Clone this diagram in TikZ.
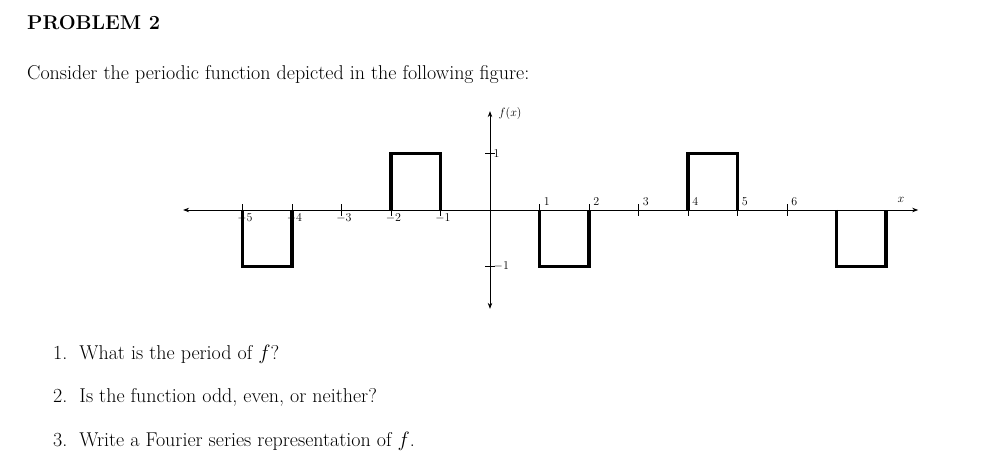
\documentclass[tikz,border=0pt]{standalone}
\usetikzlibrary{arrows.meta}
\begin{document}
\begin{tikzpicture}[
  txt/.style={anchor=base west,inner sep=0pt,font=\fontsize{20}{24}\selectfont},
  lbl/.style={inner sep=1pt,font=\fontsize{13}{15}\selectfont},
  pulse/.style={line width=3.5pt},
  ax/.style={line width=0.8pt,{Stealth[length=6pt]}-{Stealth[length=6pt]}}]
\useasboundingbox (0,0) rectangle (994pt,466pt);
\node[txt,font=\fontsize{20}{24}\selectfont\bfseries] (t0) at (27pt,436pt) {PROBLEM 2};
\node[txt] (t1) at (27pt,386pt) {Consider the periodic function depicted in the following figure:};
\node[txt] (q1) at (53pt,106pt) {1.\ \ What is the period of $f$?};
\node[txt] (q2) at (53pt,63pt) {2.\ \ Is the function odd, even, or neither?};
\node[txt] (q3) at (53pt,19pt) {3.\ \ Write a Fourier series representation of $f$.};
\begin{scope}[shift={(490pt,256pt)},x=49.5pt,y=56.5pt]
  \coordinate (xl) at (-6.2,0); \coordinate (xr) at (8.65,0);
  \coordinate (yb) at (0,-1.75); \coordinate (yt) at (0,1.75);
  \draw[ax] (xl) -- (xr);
  \draw[ax] (yb) -- (yt);
  \node[lbl,anchor=west] (fx) at (0.15,1.7) {$f(x)$};
  \node[lbl] (xlab) at (8.3,0.17) {$x$};
  \foreach \v in {-5,...,-1} {\draw[line width=0.6pt] (\v,-0.1) -- (\v,0.1);
    \node[lbl] at (\v+0.05,-0.15) {$\v$};}
  \foreach \v in {1,...,6} {\draw[line width=0.6pt] (\v,-0.1) -- (\v,0.1);
    \node[lbl] at (\v+0.15,0.15) {$\v$};}
  \draw[line width=0.6pt] (-0.1,1) -- (0.1,1);
  \draw[line width=0.6pt] (-0.1,-1) -- (0.1,-1);
  \node[lbl,anchor=west] (y1) at (0.05,1) {$1$};
  \node[lbl,anchor=west] (ym1) at (0.05,-1) {$-1$};
  \foreach \a in {-5,1,7} \draw[pulse] (\a,0) -- (\a,-1) -- (\a+1,-1) -- (\a+1,0);
  \foreach \a in {-2,4} \draw[pulse] (\a,0) -- (\a,1) -- (\a+1,1) -- (\a+1,0);
\end{scope}
\end{tikzpicture}
\end{document}
